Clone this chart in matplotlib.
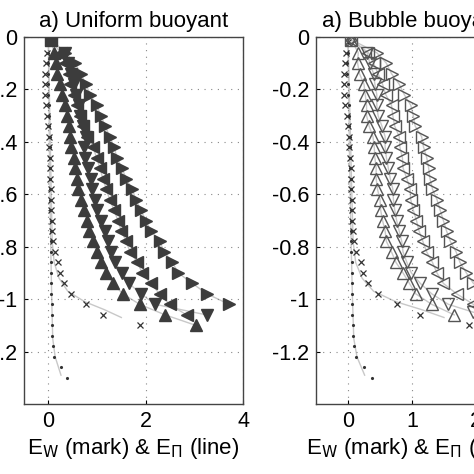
import numpy as np
import matplotlib
matplotlib.use('Agg')
import matplotlib.pyplot as plt

plt.rcParams['font.family'] = ['Liberation Sans', 'DejaVu Sans']
plt.rcParams['font.size'] = 12.5

# depth levels of the markers
z_main = [-0.06, -0.10, -0.14, -0.18, -0.22, -0.26, -0.30, -0.34, -0.38, -0.42, -0.46, -0.50,
          -0.54, -0.58, -0.62, -0.66, -0.70, -0.74, -0.78, -0.82, -0.86, -0.90, -0.94, -0.98, -1.02]

# left panel: uniform buoyant (filled markers)
uni_right = [0.35, 0.55, 0.67, 0.77, 0.86, 0.99, 1.08, 1.17, 1.26, 1.35, 1.41, 1.51,
             1.60, 1.72, 1.80, 1.90, 2.00, 2.11, 2.29, 2.38, 2.55, 2.67, 2.96, 3.26, 3.72]
uni_left = [0.25, 0.35, 0.42, 0.45, 0.52, 0.59, 0.65, 0.72, 0.79, 0.92, 0.99, 1.06,
            1.12, 1.19, 1.26, 1.35, 1.43, 1.50, 1.60, 1.68, 1.83, 1.93, 2.10, 2.29, 2.49]
uni_down = [0.35, 0.41, 0.46, 0.52, 0.57, 0.62, 0.65, 0.72, 0.77, 0.74, 0.75, 0.82,
            0.88, 0.89, 0.96, 1.01, 1.09, 1.16, 1.22, 1.29, 1.37, 1.51, 1.66, 1.90, 2.20]
uni_up = [0.12, 0.15, 0.18, 0.24, 0.28, 0.34, 0.38, 0.42, 0.44, 0.47, 0.52, 0.55,
          0.59, 0.61, 0.67, 0.74, 0.79, 0.84, 0.92, 0.99, 1.08, 1.19, 1.33, 1.53, 1.88]
uni_tail = {'>': [], '<': [(2.84, -1.06)], 'v': [(3.25, -1.06)], '^': [(2.40, -1.06), (3.03, -1.10)]}

# right panel: bubble buoyant (open markers)
bub_right = [0.45, 0.60, 0.68, 0.80, 0.88, 0.98, 1.02, 1.05, 1.15, 1.18, 1.23, 1.26,
             1.28, 1.32, 1.39, 1.44, 1.49, 1.54, 1.60, 1.69, 1.75, 1.85, 1.96, 2.20, 2.45]
bub_left = [0.32, 0.40, 0.47, 0.54, 0.59, 0.68, 0.70, 0.73, 0.80, 0.81, 0.85, 0.86,
            0.92, 0.97, 0.98, 1.02, 1.07, 1.11, 1.17, 1.23, 1.32, 1.39, 1.49, 1.70, 1.96]
bub_down = [0.30, 0.34, 0.40, 0.42, 0.45, 0.45, 0.47, 0.53, 0.58, 0.58, 0.60, 0.63,
            0.66, 0.70, 0.71, 0.73, 0.76, 0.80, 0.84, 0.86, 0.92, 0.99, 1.13, 1.31, 1.57]
bub_up = [0.16, 0.15, 0.18, 0.25, 0.27, 0.29, 0.29, 0.33, 0.39, 0.41, 0.42, 0.44,
          0.44, 0.46, 0.50, 0.51, 0.54, 0.58, 0.60, 0.68, 0.75, 0.86, 0.96, 1.06, 1.31]
bub_tail = {'>': [], '<': [], 'v': [(1.96, -1.05)], '^': [(1.66, -1.06)]}

# single-particle (x) and tracer (.) profiles, same in both panels
z_cross = [-0.02, -0.06, -0.10, -0.14, -0.18, -0.22, -0.26, -0.30, -0.34, -0.38, -0.42, -0.46, -0.50,
           -0.54, -0.58, -0.62, -0.66, -0.70, -0.74, -0.78, -0.82, -0.86, -0.90, -0.94, -0.98, -1.02, -1.06, -1.10]
x_cross = [0.0, -0.03, -0.05, -0.06, -0.07, -0.06, -0.04, -0.02, 0.0, 0.01, 0.02, 0.03, 0.04,
           0.04, 0.05, 0.06, 0.06, 0.07, 0.08, 0.09, 0.13, 0.20, 0.23, 0.32, 0.47, 0.77, 1.12, 1.89]
z_dot = [-0.02, -0.06, -0.10, -0.14, -0.18, -0.22, -0.26, -0.30, -0.34, -0.38, -0.42, -0.46, -0.50,
         -0.54, -0.58, -0.62, -0.66, -0.70, -0.74, -0.78, -0.82, -0.86, -0.90, -0.94, -0.98, -1.02,
         -1.06, -1.10, -1.14, -1.18, -1.22, -1.26, -1.30]
x_dot = [0.0, 0.0, -0.01, -0.01, 0.0, 0.0, 0.01, 0.02, 0.02, 0.03, 0.03, 0.03, 0.03,
         0.04, 0.04, 0.04, 0.04, 0.05, 0.05, 0.05, 0.05, 0.06, 0.06, 0.06, 0.06, 0.07,
         0.07, 0.08, 0.08, 0.09, 0.12, 0.25, 0.38]

# E_Pi lines
line_cross_x = [0.0, 0.03, 0.06, 0.08, 0.12, 0.22, 0.40, 0.75, 1.15, 1.50]
line_cross_z = [0.0, -0.30, -0.60, -0.78, -0.86, -0.92, -0.97, -1.01, -1.04, -1.07]
line_dot_x = [0.0, 0.02, 0.05, 0.07, 0.09, 0.14, 0.26]
line_dot_z = [0.0, -0.40, -0.80, -1.00, -1.15, -1.22, -1.29]

fig = plt.figure(figsize=(4.74, 4.74), dpi=100)
W = 474.0
ax1 = fig.add_axes([24 / W, 70 / W, 219 / W, 367 / W])
ax2 = fig.add_axes([316 / W, 70 / W, 192 / W, 367 / W])

lc = '#c8c8c8'
panels = [
    (ax1, [uni_right, uni_left, uni_down, uni_up], uni_tail, True, (-0.5, 4), [0, 2, 4], 'a) Uniform buoyant'),
    (ax2, [bub_right, bub_left, bub_down, bub_up], bub_tail, False, (-0.5, 2.5), [0, 1, 2], 'a) Bubble buoyant'),
]
for ax, series, tail, filled, xlim, xt, title in panels:
    for xs, m in zip(series, ['>', '<', 'v', '^']):
        xx = [0.05] + xs + [p[0] for p in tail[m]]
        zz = [-0.01] + z_main + [p[1] for p in tail[m]]
        ax.plot(xx, zz, '-', color=lc, lw=1.0, zorder=1)
        if filled:
            ax.plot(xx, zz, m, ls='none', ms=8, color='#3c3c3c', zorder=3)
        else:
            ax.plot(xx, zz, m, ls='none', ms=8, mfc='none', mec='#555555', mew=1.0, zorder=3)
    ax.plot(line_cross_x, line_cross_z, '-', color=lc, lw=1.0, zorder=1)
    ax.plot(line_dot_x, line_dot_z, '-', color=lc, lw=1.0, zorder=1)
    ax.plot(x_cross, z_cross, 'x', ls='none', ms=4, mew=0.9, color='#333333', zorder=2)
    ax.plot(x_dot, z_dot, '.', ls='none', ms=2.5, color='#333333', zorder=2)
    ax.set_xlim(*xlim)
    ax.set_ylim(-1.4, 0)
    ax.set_xticks(xt)
    ax.set_yticks([0, -0.2, -0.4, -0.6, -0.8, -1, -1.2])
    ax.set_yticklabels(['0', '-0.2', '-0.4', '-0.6', '-0.8', '-1', '-1.2'])
    ax.tick_params(direction='in', length=3, labelsize=15.5, pad=5)
    ax.grid(True, color='#888888', linestyle=(0, (1, 5)), linewidth=0.8)
    for s in ax.spines.values():
        s.set_color('#444444')
        s.set_linewidth(1.0)
    ax.set_title(title, fontsize=16, pad=7)
    ax.set_xlabel('E$_\\mathrm{W}$ (mark) & E$_\\Pi$ (line)', fontsize=16, labelpad=3)

fig.savefig('out.png', dpi=100)
